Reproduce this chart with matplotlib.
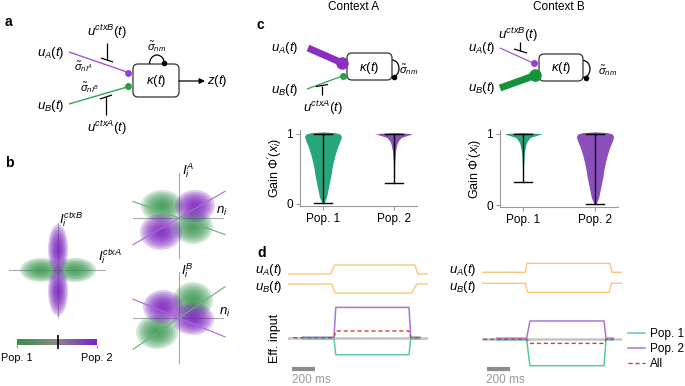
import numpy as np
import matplotlib.pyplot as plt
from matplotlib.patches import Ellipse, FancyBboxPatch, Arc
from matplotlib.colors import LinearSegmentedColormap

plt.rcParams['font.family'] = ['Liberation Sans', 'DejaVu Sans']
plt.rcParams['mathtext.fontset'] = 'custom'
plt.rcParams['mathtext.it'] = 'Liberation Sans:italic'
plt.rcParams['mathtext.rm'] = 'Liberation Sans'
plt.rcParams['mathtext.sf'] = 'Liberation Sans'
plt.rcParams['font.size'] = 8.5

# ---- data ----
# b: point clouds summarised as lobes (centre, extent, population)
ctx_lobe_x = [-1.7, 1.7, 0.0, 0.0]
ctx_lobe_y = [0.0, 0.0, 2.1, -2.1]
ctx_lobe_w = [4.2, 4.2, 2.0, 2.0]
ctx_lobe_h = [2.4, 2.4, 5.0, 5.0]
ctx_lobe_pop = [1, 1, 2, 2]

ia_lobe_x = [-1.7, 1.4, 1.6, -1.8]
ia_lobe_y = [1.2, -0.9, 1.2, -1.4]
ia_lobe_w = [4.2, 4.0, 4.0, 4.2]
ia_lobe_h = [3.2, 3.4, 3.2, 3.6]
ia_lobe_pop = [1, 1, 2, 2]
ia_slope = {1: -0.36, 2: 0.58}

ib_lobe_x = [1.4, -2.2, -1.6, 1.4]
ib_lobe_y = [1.8, -1.4, 1.1, -0.1]
ib_lobe_w = [4.0, 4.2, 4.0, 4.2]
ib_lobe_h = [3.6, 3.4, 3.4, 3.2]
ib_lobe_pop = [1, 1, 2, 2]
ib_slope = {1: 0.68, 2: -0.41}

# c: violin profiles (gain level, half width)
wide_y = [1.03, 1.02, 1.0, 0.96, 0.9, 0.8, 0.7, 0.6, 0.5, 0.4, 0.3, 0.2, 0.1, 0.03, 0.0]
wide_w = [0.0, 0.17, 0.24, 0.26, 0.24, 0.2, 0.17, 0.145, 0.125, 0.11, 0.09, 0.07, 0.05, 0.02, 0.0]
narrow_y = [1.02, 1.01, 1.0, 0.98, 0.95, 0.9, 0.85, 0.75, 0.6, 0.45, 0.32]
narrow_w = [0.0, 0.2, 0.26, 0.19, 0.1, 0.06, 0.04, 0.02, 0.01, 0.005, 0.0]
pops = ['Pop. 1', 'Pop. 2']
gain_min_A = [0.02, 0.30]
gain_min_B = [0.33, 0.02]
gain_max = 1.0

# d: input and effective-input traces (time in ms)
tA_uA = [0, 371, 403, 1104, 1128, 1220]
tA_uB = [0, 380, 409, 1075, 1119, 1220]
tB_uA = [0, 377, 391, 1110, 1130, 1217]
tB_uB = [0, 377, 395, 1105, 1125, 1217]
u_up = [0, 0, 1, 1, 0, 0]
u_down = [0, 0, -1, -1, 0, 0]

tA_eff = [128, 400, 415, 1052, 1067, 1148]
tA_all = [46, 400, 415, 1052, 1067, 1148]
A_pop1 = [-0.8, -0.8, -16.7, -16.7, -0.8, -0.8]
A_pop2 = [0.8, 0.8, 30.6, 30.6, 0.8, 0.8]
A_all = [0.3, 0.3, 7.0, 7.0, 0.3, 0.3]

tB_eff = [128, 388, 417, 1061, 1078, 1142]
tB_all = [11, 388, 417, 1061, 1078, 1142]
B_pop1 = [-0.8, -0.8, -26.7, -26.7, -0.8, -0.8]
B_pop2 = [0.8, 0.8, 18.0, 18.0, 0.8, 0.8]
B_all = [-0.3, -0.3, -4.4, -4.4, -0.3, -0.3]

# colours
SC_GREEN = '#3d9852'
SC_PURPLE = '#7a22bd'
V_GREEN = '#27a67a'
V_PURPLE = '#8a4fbb'
T_GREEN = '#5cc7a0'
T_PURPLE = '#a876d3'
T_RED = '#c9443a'
U_COL = '#f8c87a'

W, H = 685, 386
fig = plt.figure(figsize=(6.85, 3.86), dpi=100)


def px_axes(x0, y0, x1, y1):
    return fig.add_axes([x0 / W, 1 - y1 / H, (x1 - x0) / W, (y1 - y0) / H])


# ---------- b: scatter clouds ----------
def cloud(ax, xs, ys, ws, hs, ps):
    for pop, col in ((1, SC_GREEN), (2, SC_PURPLE)):
        for x, y, w, h, p in zip(xs, ys, ws, hs, ps):
            if p != pop:
                continue
            for s in np.linspace(1.0, 0.15, 8):
                ax.add_patch(Ellipse((x, y), w * s, h * s, fc=col, ec='none', alpha=0.23))


def bare(ax, xl, yl):
    ax.set_xlim(*xl)
    ax.set_ylim(*yl)
    ax.axis('off')


ax = px_axes(7, 220, 107, 320)
bare(ax, (-5.1, 4.9), (-5, 5))
ax.plot([-4.9, 4.7], [0, 0], color='#aaaaaa', lw=0.8, zorder=0)
ax.plot([0, 0], [-4.7, 4.7], color='#aaaaaa', lw=0.8, zorder=0)
cloud(ax, ctx_lobe_x, ctx_lobe_y, ctx_lobe_w, ctx_lobe_h, ctx_lobe_pop)

for rect, xs, ys, ws, hs, ps, slope, yl, vl in [
        ((130, 170, 228, 262), ia_lobe_x, ia_lobe_y, ia_lobe_w, ia_lobe_h, ia_lobe_pop, ia_slope,
         (-4.4, 4.8), (-4.0, 4.5)),
        ((130, 270, 228, 366), ib_lobe_x, ib_lobe_y, ib_lobe_w, ib_lobe_h, ib_lobe_pop, ib_slope,
         (-4.8, 4.8), (-4.5, 4.6))]:
    ax = px_axes(*rect)
    bare(ax, (-4.9, 4.9), yl)
    ax.plot([-4.6, 4.4], [0, 0], color='#aaaaaa', lw=0.8, zorder=0)
    ax.plot([0, 0], list(vl), color='#aaaaaa', lw=0.8, zorder=0)
    cloud(ax, xs, ys, ws, hs, ps)
    xx = np.array([-4.6, 4.6])
    ax.plot(xx, slope[1] * xx, color='#66b27a', lw=0.8)
    ax.plot(xx, slope[2] * xx, color='#a86ad8', lw=0.8)

# colour bar
cax = px_axes(17, 339, 97, 345)
cmap = LinearSegmentedColormap.from_list('pops', ['#3a8f4c', '#888888', '#7a1fc8'])
cax.imshow(np.linspace(0, 1, 256)[None, :], aspect='auto', cmap=cmap)
cax.axis('off')

# ---------- c: violins ----------
def violins(ax, mins, profiles):
    for i, (prof, vmin) in enumerate(zip(profiles, mins)):
        pos = i + 1
        col = V_GREEN if i == 0 else V_PURPLE
        vy, vw = prof
        ax.fill_betweenx(vy, [pos - w for w in vw], [pos + w for w in vw],
                         color=col, lw=0)
        ax.plot([pos, pos], [vmin, gain_max], color='k', lw=1.0)
        for v in (vmin, gain_max):
            ax.plot([pos - 0.125, pos + 0.125], [v, v], color='k', lw=1.0)
    ax.set_xticks([1, 2], pops)
    ax.set_yticks([0, 1], ['0', '1'])
    for s in ('top', 'right'):
        ax.spines[s].set_visible(False)
    for s in ('left', 'bottom'):
        ax.spines[s].set_color('#999999')
        ax.spines[s].set_linewidth(0.8)
    ax.tick_params(length=3, width=0.8, color='#999999', pad=2, labelsize=8.5)
    ax.set_ylabel(r"Gain $\Phi^{\prime}(x_i)$", fontsize=9, labelpad=2)


ax = px_axes(300, 130, 417, 206)
ax.set_xlim(1 - 23 / 71, 2 + 23 / 71)
ax.set_ylim(-2 / 70, 1 + 4 / 70)
violins(ax, gain_min_A, [(wide_y, wide_w), (narrow_y, narrow_w)])

ax = px_axes(500, 130, 618, 207)
ax.set_xlim(1 - 23 / 72, 2 + 23 / 72)
ax.set_ylim(-2 / 71, 1 + 4 / 71)
violins(ax, gain_min_B, [(narrow_y, narrow_w), (wide_y, wide_w)])

# ---------- d: traces ----------
for x0, tua, tub, oa, ob in [(288, tA_uA, tA_uB, 24, 14), (482, tB_uA, tB_uB, 25.7, 14.7)]:
    ax = px_axes(x0, 258, x0 + 140, 298)
    bare(ax, (0, 1217), (0, 40))
    ax.plot(tua, [oa + 9 * v for v in u_up], color=U_COL, lw=1.0)
    ax.plot(tub, [ob + 9 * v for v in u_down], color=U_COL, lw=1.0)

eff_axes = []
for x0, base, te, ta, p1, p2, al, bar0 in [
        (288, 338, tA_eff, tA_all, A_pop1, A_pop2, A_all, 35),
        (482, 339, tB_eff, tB_all, B_pop1, B_pop2, B_all, 40)]:
    ax = px_axes(x0, 300, x0 + 140, 375)
    bare(ax, (0, 1217), (-(375 - base), base - 300))
    ax.plot([0, 1212], [0, 0], color='#c4c4c4', lw=1.8, zorder=1)
    ax.plot(te, p1, color=T_GREEN, lw=1.1, label='Pop. 1', zorder=2)
    ax.plot(te, p2, color=T_PURPLE, lw=1.1, label='Pop. 2', zorder=2)
    ax.plot(ta, al, color=T_RED, lw=1.0, ls=(0, (3, 2)), label='All', zorder=3)
    ybar = -(369 - base)
    ax.plot([bar0, bar0 + 200], [ybar, ybar], color='#8c8c8c', lw=3, solid_capstyle='butt',
            clip_on=False)
    ax.text(bar0 - 4, ybar - 11, '200 ms', color='#9a9a9a', fontsize=8.5, ha='left',
            va='center', clip_on=False)
    eff_axes.append(ax)

h, l = eff_axes[1].get_legend_handles_labels()
fig.legend(h, l, loc='center left', bbox_to_anchor=(628 / W, 1 - 349 / H), frameon=False,
           fontsize=8.5, handlelength=1.4, handletextpad=0.5, labelspacing=0.25,
           borderpad=0, borderaxespad=0)

# ---------- schematic overlay (pixel coordinates) ----------
ov = fig.add_axes([0, 0, 1, 1])
ov.set_xlim(0, W)
ov.set_ylim(H, 0)
ov.axis('off')
ov.patch.set_alpha(0)

MS = 9.5
DPURPLE = '#9b3fd0'
DGREEN = '#23a043'


def txt(x, y, s, ha='center', fs=MS, **kw):
    ov.text(x, y, s, ha=ha, va='center', fontsize=fs, **kw)


def line(xs, ys, **kw):
    ov.plot(xs, ys, solid_capstyle='butt', **kw)


def box(x0, y0, x1, y1):
    ov.add_patch(FancyBboxPatch((x0, y0), x1 - x0, y1 - y0,
                                boxstyle='round,pad=0,rounding_size=5',
                                fc='white', ec='#333333', lw=0.9, zorder=3))


for x, y, s in [(5, 22, 'a'), (5, 163, 'b'), (257, 25, 'c'), (257, 253, 'd')]:
    txt(x, y, s, ha='left', fs=10, fontweight='bold')

txt(354, 7, 'Context A', fs=8.5)
txt(559, 7, 'Context B', fs=8.5)

# panel a
txt(107, 32, r'$u^{ctxB}(t)$')
txt(65, 53, r'$u_A(t)$', ha='right')
txt(65, 106, r'$u_B(t)$', ha='right')
txt(107, 128, r'$u^{ctxA}(t)$')
line([69, 127], [52, 72], color='#a355db', lw=1.0)
line([69, 127], [104, 87], color='#2ea84c', lw=1.0)
ov.plot(128, 73, 'o', ms=5, color=DPURPLE, mec='none', zorder=4)
ov.plot(128, 86, 'o', ms=5, color=DGREEN, mec='none', zorder=4)
line([107, 107], [43, 60], color='k', lw=0.9)
line([101, 113], [58, 62], color='k', lw=0.9)
line([106, 106], [97, 115], color='k', lw=0.9)
line([100, 112], [99, 95], color='k', lw=0.9)
txt(84, 67, r'$\tilde{\sigma}_{nI^A}$', fs=8)
txt(90, 88, r'$\tilde{\sigma}_{nI^B}$', fs=8)
box(133, 64, 179, 97)
txt(156, 81, r'$\kappa(t)$')
ov.add_patch(Arc((157, 64), 15, 18, theta1=180, theta2=360, color='k', lw=0.9, zorder=4))
ov.plot(164.5, 63, 'o', ms=3, color='k', zorder=5)
txt(157, 47, r'$\tilde{\sigma}_{nm}$', fs=8)
ov.annotate('', xy=(205, 81), xytext=(179, 81),
            arrowprops=dict(arrowstyle='-|>', color='k', lw=0.9, mutation_scale=8,
                            shrinkA=0, shrinkB=0))
txt(207, 81, r'$z(t)$', ha='left')

# b labels
txt(71, 220, r'$I_i^{ctxB}$')
txt(110, 257, r'$I_i^{ctxA}$')
txt(188, 171, r'$I_i^{A}$')
txt(222, 211, r'$n_i$')
txt(187, 271, r'$I_i^{B}$')
txt(225, 312, r'$n_i$')
line([58, 58], [335, 349], color='k', lw=1.2)
line([17, 17], [345, 348], color='#777777', lw=0.6)
line([97, 97], [345, 348], color='#777777', lw=0.6)
txt(17, 358, 'Pop. 1', fs=7.8)
txt(97, 358, 'Pop. 2', fs=7.8)

# panel c, context A
txt(299, 48, r'$u_A(t)$', ha='right')
txt(299, 90, r'$u_B(t)$', ha='right')
line([308, 340], [48, 62], color='#8b2fc4', lw=5)
ov.plot(342, 63, 'o', ms=9, color='#8b2fc4', mec='none', zorder=4)
line([307, 341], [89, 76.5], color='#2ea84c', lw=0.9)
ov.plot(343, 76, 'o', ms=5, color=DGREEN, mec='none', zorder=4)
line([316, 328], [86.5, 84.5], color='k', lw=0.9)
line([322, 322], [85.5, 95], color='k', lw=0.9)
txt(323, 108, r'$u^{ctxA}(t)$')
box(347, 53, 392, 80)
txt(369, 68, r'$\kappa(t)$')
ov.add_patch(Arc((392, 68.5), 14, 17, theta1=-90, theta2=90, color='k', lw=0.9, zorder=2))
ov.plot(394, 77, 'o', ms=3, color='k', zorder=5)
txt(399, 70, r'$\tilde{\sigma}_{nm}$', ha='left', fs=8)

# panel c, context B
txt(496, 48, r'$u_A(t)$', ha='right')
txt(496, 88, r'$u_B(t)$', ha='right')
line([500, 532], [48, 62.5], color='#a355db', lw=0.9)
ov.plot(534, 63, 'o', ms=5, color=DPURPLE, mec='none', zorder=4)
line([514, 527], [49, 53], color='k', lw=0.9)
line([520, 520], [42, 51], color='k', lw=0.9)
txt(518, 35, r'$u^{ctxB}(t)$')
line([500, 532], [88, 76.5], color='#13943a', lw=5)
ov.plot(535, 75, 'o', ms=9, color='#13943a', mec='none', zorder=4)
box(539, 54, 583, 81)
txt(561, 68, r'$\kappa(t)$')
ov.add_patch(Arc((583, 69), 14, 17, theta1=-90, theta2=90, color='k', lw=0.9, zorder=2))
ov.plot(586, 77.5, 'o', ms=3, color='k', zorder=5)
txt(598, 71, r'$\tilde{\sigma}_{nm}$', ha='left', fs=8)

# panel d labels
txt(283, 270, r'$u_A(t)$', ha='right')
txt(283, 287, r'$u_B(t)$', ha='right')
txt(477, 270, r'$u_A(t)$', ha='right')
txt(477, 287, r'$u_B(t)$', ha='right')
txt(275, 338, 'Eff. input', fs=9, rotation=90)

fig.savefig('out.png', dpi=100)
